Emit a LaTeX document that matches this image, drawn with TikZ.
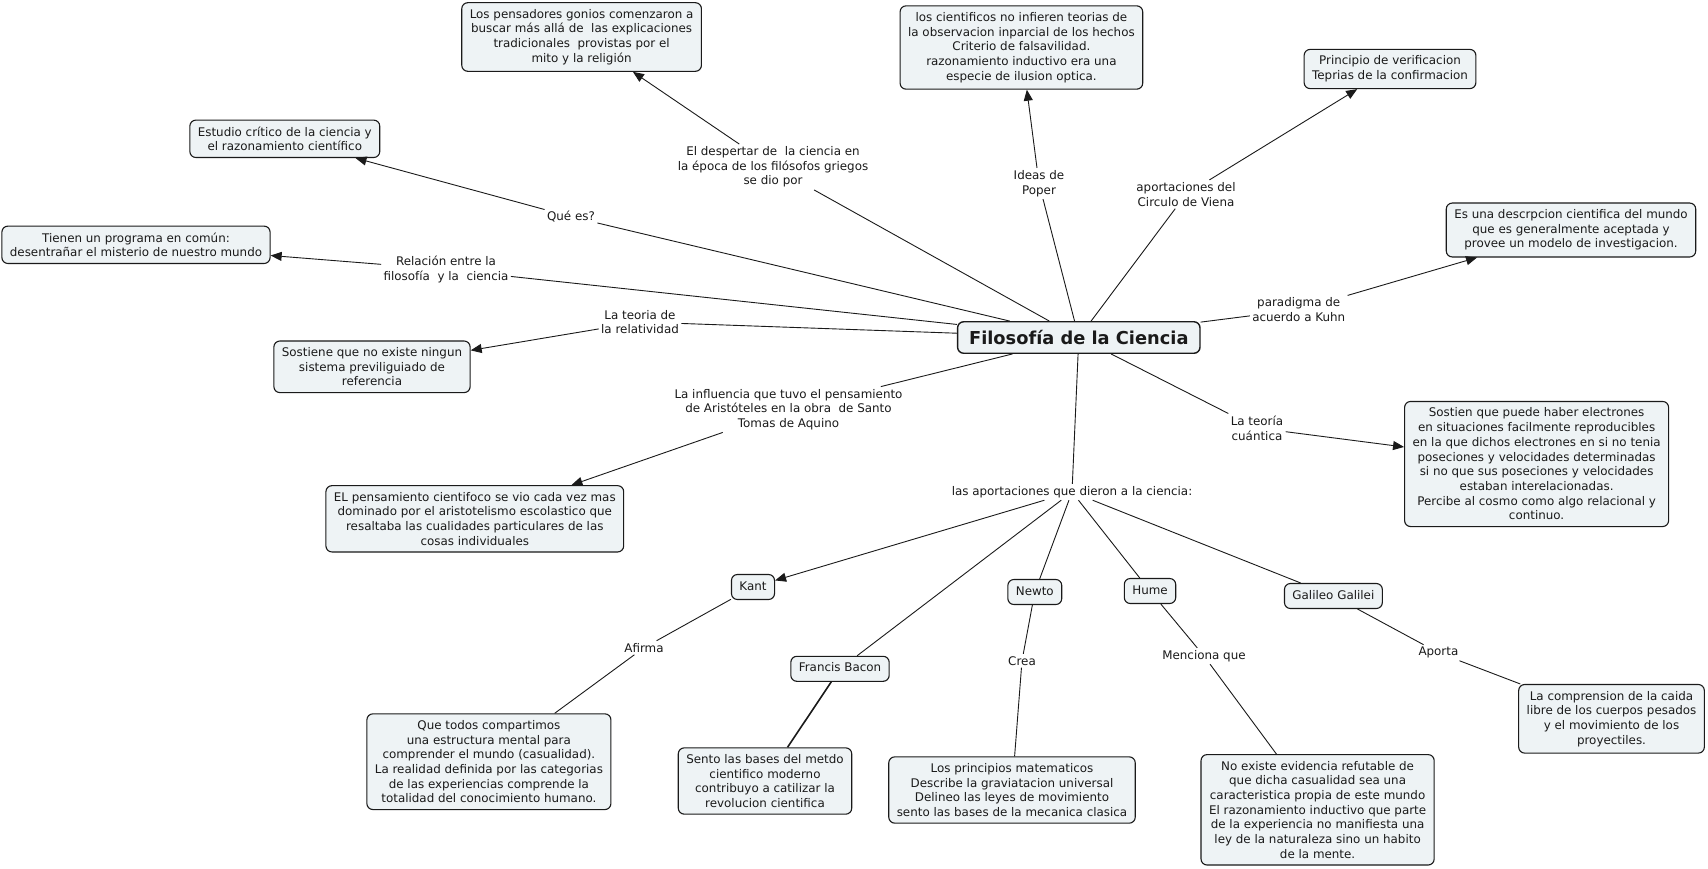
\documentclass[tikz,border=0pt]{standalone}
\usepackage{fontspec}
\setmainfont{DejaVu Sans}
\usepackage{xcolor}
\usepackage{tikz}
\usetikzlibrary{arrows.meta}
\definecolor{ink}{HTML}{1A1A1A}
\definecolor{cfill}{HTML}{EEF3F5}

\tikzset{
  concept/.style={draw=ink,fill=cfill,rounded corners=6pt,line width=1.1pt,
                  inner xsep=8pt,inner ysep=6.5pt,align=center,text=ink},
  person/.style={concept,text height=9pt,text depth=3pt,inner ysep=6.5pt},
  linkword/.style={inner sep=2pt,align=center,text=ink},
  tip/.style={-{Triangle[length=11pt,width=9pt]}}
}

\begin{document}
\begin{tikzpicture}[x=1pt,y=-1pt,font=\fontsize{11.9}{14.7}\selectfont,line width=0.9pt,ink]
  \fill[white] (0,0) rectangle (1708,868);
  \useasboundingbox (0,0) rectangle (1708,868);
  % central idea
  \node[concept,line width=1.4pt,inner xsep=11.5pt,inner ysep=8.5pt,
        font=\fontsize{17.8}{20}\selectfont\bfseries] (main) at (1078.8,337.5) {Filosofía de la Ciencia};
  % concepts
  \node[concept] (pens) at (581.6,37) {Los pensadores gonios comenzaron a\\buscar más allá de~ las explicaciones\\tradicionales~ provistas por el\\mito y la religión};
  \node[concept] (estudio) at (284.8,138.8) {Estudio crítico de la ciencia y\\el razonamiento científico};
  \node[concept] (tienen) at (136,244.8) {Tienen un programa en común:\\desentrañar el misterio de nuestro mundo};
  \node[concept] (popper) at (1021.4,47.5) {los cientificos no infieren teorias de\\la observacion inparcial de los hechos\\Criterio de falsavilidad.\\razonamiento inductivo era una\\especie de ilusion optica.};
  \node[concept] (verif) at (1390,69) {Principio de verificacion\\Teprias de la confirmacion};
  \node[concept] (kuhn) at (1571,230) {Es una descrpcion cientifica del mundo\\que es generalmente aceptada y\\provee un modelo de investigacion.};
  \node[concept] (relat) at (372,366.8) {Sostiene que no existe ningun\\sistema previliguiado de\\referencia};
  \node[concept] (aristo) at (474.8,518.8) {EL pensamiento cientifoco se vio cada vez mas\\dominado por el aristotelismo escolastico que\\resaltaba las cualidades particulares de las\\cosas individuales};
  \node[concept] (cuant) at (1536.6,464) {Sostien que puede haber electrones\\en situaciones facilmente reproducibles\\en la que dichos electrones en si no tenia\\poseciones y velocidades determinadas\\si no que sus poseciones y velocidades\\estaban interelacionadas.\\Percibe al cosmo como algo relacional y\\continuo.};
  \node[person] (kant) at (753,587) {Kant};
  \node[person] (newton) at (1034.8,592) {Newto};
  \node[person] (hume) at (1150,591) {Hume};
  \node[person] (galileo) at (1333.4,596) {Galileo Galilei};
  \node[person] (bacon) at (840,668.8) {Francis Bacon};
  \node[concept] (kanttxt) at (488.9,761.7) {Que todos compartimos\\una estructura mental para\\comprender el mundo (casualidad).\\La realidad definida por las categorias\\de las experiencias comprende la\\totalidad del conocimiento humano.};
  \node[concept] (bacontxt) at (765,781) {Sento las bases del metdo\\cientifico moderno\\contribuyo a catilizar la\\revolucion cientifica};
  \node[concept] (newtontxt) at (1012,790) {Los principios matematicos\\Describe la graviatacion universal\\Delineo las leyes de movimiento\\sento las bases de la mecanica clasica};
  \node[concept] (humetxt) at (1317.6,809.8) {No existe evidencia refutable de\\que dicha casualidad sea una\\caracteristica propia de este mundo\\El razonamiento inductivo que parte\\de la experiencia no manifiesta una\\ley de la naturaleza sino un habito\\de la mente.};
  \node[concept] (galtxt) at (1611.5,718.8) {La comprension de la caida\\libre de los cuerpos pesados\\y el movimiento de los\\proyectiles.};
  % linking words
  \node[linkword] (lqe) at (571,216.7) {Qué es?};
  \node[linkword] (lrel) at (446,269.5) {Relación entre la\\filosofía~ y la~ ciencia};
  \node[linkword] (ldesp) at (773,167) {El despertar de~ la ciencia en\\la época de los filósofos griegos\\se dio por};
  \node[linkword] (lpop) at (1039,183.5) {Ideas de\\Poper};
  \node[linkword] (lviena) at (1186,194.3) {aportaciones del\\Circulo de Viena};
  \node[linkword] (lkuhn) at (1298.7,309.7) {paradigma de\\acuerdo a Kuhn};
  \node[linkword] (lrelat) at (640,322) {La teoria de\\la relatividad};
  \node[linkword] (linfl) at (788.5,409.5) {La influencia que tuvo el pensamiento\\de Aristóteles en la obra~ de Santo\\Tomas de Aquino};
  \node[linkword] (lcuant) at (1257,428) {La teoría\\cuántica};
  \node[linkword] (lapor) at (1072,492) {las aportaciones que dieron a la ciencia:};
  \node[linkword] (lafirma) at (644,647.7) {Afirma};
  \node[linkword] (lcrea) at (1022,660.7) {Crea};
  \node[linkword] (lmenc) at (1204,656) {Menciona que};
  \node[linkword] (laporta) at (1438.4,652.7) {Aporta};
  % connectors
  \foreach \w/\c in {lqe/estudio,lrel/tienen,ldesp/pens,lpop/popper,lviena/verif,
                     lkuhn/kuhn,lrelat/relat,linfl/aristo,lcuant/cuant,lapor/kant}
    {\draw (main) -- (\w); \draw[tip] (\w) -- (\c);}
  \foreach \c in {bacon,newton,hume,galileo}
    \draw (lapor) -- (\c);
  \foreach \a/\w/\b in {kant/lafirma/kanttxt,newton/lcrea/newtontxt,
                        hume/lmenc/humetxt,galileo/laporta/galtxt}
    {\draw (\a) -- (\w); \draw (\w) -- (\b);}
  \draw[line width=1.6pt] (bacon) -- (bacontxt);
\end{tikzpicture}
\end{document}
